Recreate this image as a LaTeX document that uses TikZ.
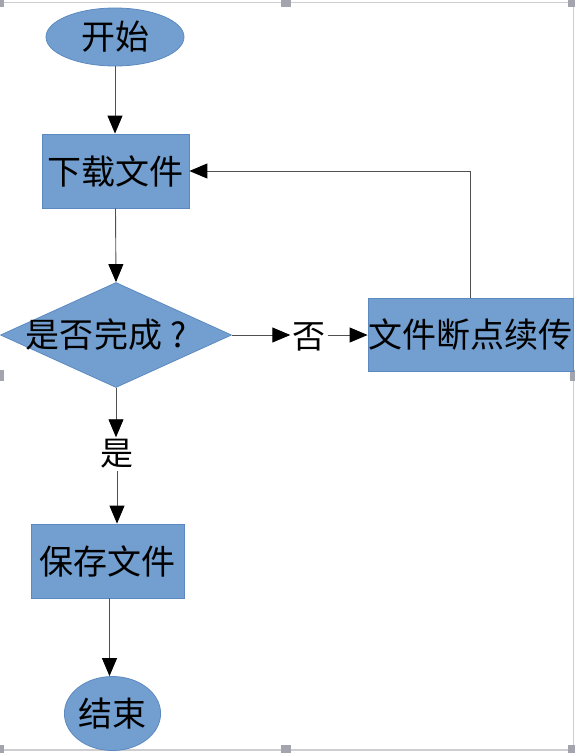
\documentclass[tikz,border=0pt]{standalone}
\usepackage{fontspec}
\newfontfamily\cjk{Noto Sans CJK SC}
\usetikzlibrary{shapes.geometric,arrows.meta}
\definecolor{shapefill}{HTML}{729FCF}
\definecolor{shapeline}{HTML}{5C8AC0}
\definecolor{conn}{HTML}{505050}
\definecolor{framegray}{HTML}{CDCDD2}
\definecolor{handlegray}{HTML}{A3A5AE}
\tikzset{
  x=1bp, y=-1bp,
  bigtext/.style={font=\cjk\fontsize{34bp}{40bp}\selectfont, text=black},
  lbltext/.style={font=\cjk\fontsize{33bp}{38bp}\selectfont, text=black, inner sep=2bp},
  shp/.style={fill=shapefill, draw=shapeline, line width=0.8bp, inner sep=0pt},
  procbox/.style={shp, rectangle, bigtext},
  termoval/.style={shp, ellipse, bigtext},
  decbox/.style={shp, diamond},
  arr/.style={draw=conn, line width=0.9bp, -{Triangle[length=18bp,width=15bp,fill=black,color=black]}},
  handle/.style={fill=handlegray, draw=none}
}
\begin{document}
\begin{tikzpicture}
\useasboundingbox (0,0) rectangle (575,753);
% frame
\draw[framegray, line width=1.5bp] (0,2.5) -- (573.3,2.5) -- (573.3,749.8) -- (0,749.8);
\fill[handle] (0,0) rectangle (3.5,7.5);
\fill[handle] (281,0) rectangle (291,7.5);
\fill[handle] (567.5,0) rectangle (575,7.5);
\fill[handle] (0,370) rectangle (3.5,381);
\fill[handle] (569.5,370) rectangle (575,381);
\fill[handle] (0,745) rectangle (3.5,753);
\fill[handle] (281,745) rectangle (291,753);
\fill[handle] (567.5,745) rectangle (575,753);

% nodes
\node[termoval, minimum width=138bp, minimum height=58bp] (start) at (115,37) {开始};
\node[procbox, minimum width=147bp, minimum height=74bp] (dl) at (115.5,171) {下载文件};
\node[decbox, minimum width=231bp, minimum height=105bp] (dec) at (116,335) {};
\node[bigtext, inner sep=0pt] (dectext) at (111,335) {是否完成\makebox[1em]{?}};
\node[procbox, minimum width=205bp, minimum height=73bp] (resume) at (470.5,334.5) {文件断点续传};
\node[lbltext] (no) at (309,337) {否};
\node[lbltext] (yes) at (117,454) {是};
\node[procbox, minimum width=153bp, minimum height=74bp] (save) at (107.5,561) {保存文件};
\node[termoval, minimum width=79bp, minimum height=74bp] (stop) at (112.5,713.5) {结束};

% connectors
\draw[arr] (start.south) -- (start.south |- dl.north);
\draw[arr] (dl.south) -- (dec.north);
\draw[arr] (dec.east) -- (dec.east -| no.west);
\draw[arr] (no.east |- dec.east) -- (dec.east -| resume.west);
\draw[arr] (resume.north) |- (dl.east);
\draw[arr] (dec.south) -- (dec.south |- yes.north);
\draw[arr] (yes.south) -- (yes.south |- save.north);
\draw[arr] ([xshift=2bp]save.south) -- ([xshift=-3bp]stop.north);
\end{tikzpicture}
\end{document}
